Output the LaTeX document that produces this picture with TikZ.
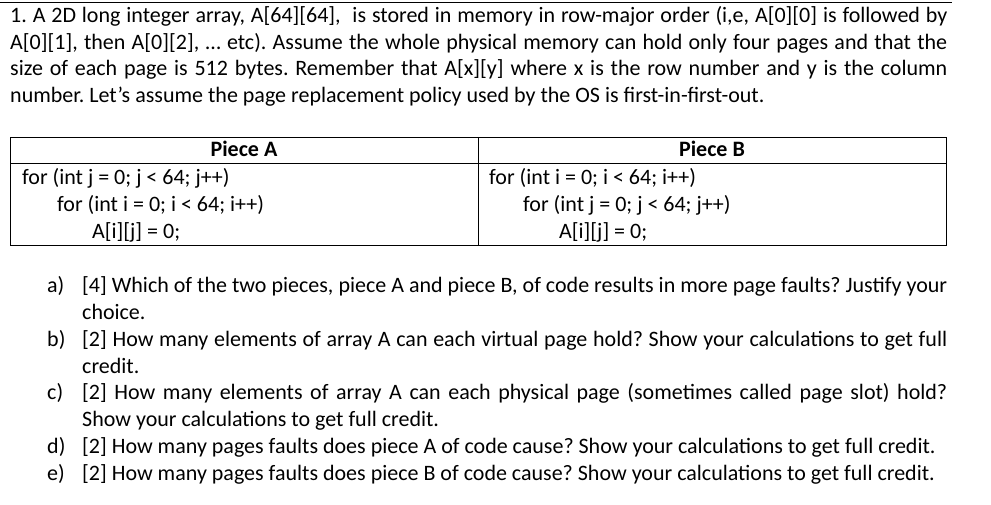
\documentclass[tikz,border=0pt]{standalone}
\usepackage{fontspec}
\setmainfont{Carlito}
\begin{document}
\frenchspacing
\begin{tikzpicture}[x=1pt,y=-1pt,
  txt/.style={anchor=base west,inner sep=0pt,font=\fontsize{22}{26}\selectfont},
  hd/.style={anchor=base,inner sep=0pt,font=\fontsize{22}{26}\selectfont\bfseries}]
\useasboundingbox (0,0) rectangle (991,505);
\draw[line width=0.8pt] (0,2) -- (952,2);
\def\J#1{\makebox[865pt][s]{#1}}
\node[txt] (p1) at (10,23) {\makebox[937pt][s]{1. A 2D long integer array, A[64][64], \ is stored in memory in row-major order (i,e, A[0][0] is followed by}};
\node[txt] (p2) at (10,49.5) {\makebox[937pt][s]{A[0][1], then A[0][2], … etc). Assume the whole physical memory can hold only four pages and that the}};
\node[txt] (p3) at (10,76) {\makebox[937pt][s]{size of each page is 512 bytes. Remember that A[x][y] where x is the row number and y is the column}};
\node[txt] (p4) at (10,103) {number. Let’s assume the page replacement policy used by the OS is first-in-first-out.};
% table
\draw[line width=0.7pt] (10,137) rectangle (946,245);
\draw[line width=0.7pt] (10,163) -- (946,163) (478,137) -- (478,245);
\node[hd] (ha) at (244,157) {Piece A};
\node[hd] (hb) at (712,157) {Piece B};
\node[txt] (a1) at (22,185) {for (int j = 0; j {\textless} 64; j++)};
\node[txt] (a2) at (57,212) {for (int i = 0; i {\textless} 64; i++)};
\node[txt] (a3) at (92,239) {A[i][j] = 0;};
\node[txt] (b1) at (489,185) {for (int i = 0; i {\textless} 64; i++)};
\node[txt] (b2) at (523,212) {for (int j = 0; j {\textless} 64; j++)};
\node[txt] (b3) at (559,239) {A[i][j] = 0;};
% questions
\node[txt] (la) at (47,293) {a)};
\node[txt] (qa1) at (82,293) {\J{[4] Which of the two pieces, piece A and piece B, of code results in more page faults? Justify your}};
\node[txt] (qa2) at (82,319) {choice.};
\node[txt] (lb) at (47,346) {b)};
\node[txt] (qb1) at (82,346) {\J{[2] How many elements of array A can each virtual page hold? Show your calculations to get full}};
\node[txt] (qb2) at (82,373) {credit.};
\node[txt] (lc) at (47,399) {c)};
\node[txt] (qc1) at (82,399) {\J{[2] How many elements of array A can each physical page (sometimes called page slot) hold?}};
\node[txt] (qc2) at (82,426) {Show your calculations to get full credit.};
\node[txt] (ld) at (47,453) {d)};
\node[txt] (qd) at (82,453) {[2] How many pages faults does piece A of code cause? Show your calculations to get full credit.};
\node[txt] (le) at (47,480) {e)};
\node[txt] (qe) at (82,480) {[2] How many pages faults does piece B of code cause? Show your calculations to get full credit.};
\end{tikzpicture}
\end{document}
